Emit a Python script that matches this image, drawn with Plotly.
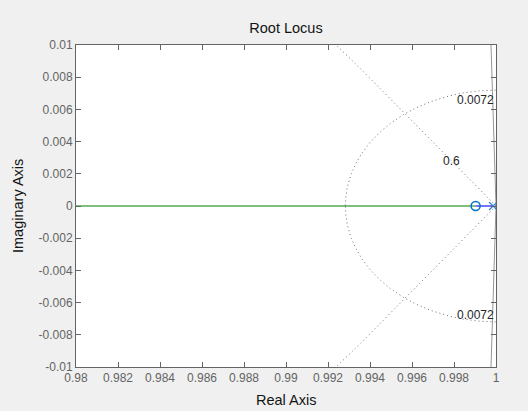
import numpy as np
import plotly.graph_objects as go

# --- data ---
pole = [0.99986]
zero = [0.99903]
locus_left_end = -1.0          # branch heading to -infinity along the real axis
zeta_grid = [0.6]              # damping ratio grid line
wn_grid = [0.0072]             # natural frequency (wn*T) grid line
circle_points = 132            # resolution of drawn unit circle

x_tick_vals = [0.98, 0.982, 0.984, 0.986, 0.988, 0.99, 0.992, 0.994, 0.996, 0.998, 1.0]
x_tick_text = ["0.98", "0.982", "0.984", "0.986", "0.988", "0.99", "0.992", "0.994", "0.996", "0.998", "1"]
y_tick_vals = [0.01, 0.008, 0.006, 0.004, 0.002, 0.0, -0.002, -0.004, -0.006, -0.008, -0.01]
y_tick_text = ["0.01", "0.008", "0.006", "0.004", "0.002", "0", "-0.002", "-0.004", "-0.006", "-0.008", "-0.01"]

FONT = "Liberation Sans, Arial, Helvetica, sans-serif"
GRID_COL = "rgb(110,110,110)"

fig = go.Figure()

# unit circle (coarse polygon)
th = np.linspace(0, 2 * np.pi, circle_points + 1)
fig.add_trace(go.Scatter(x=np.cos(th), y=np.sin(th), mode="lines",
                         line=dict(color="rgb(150,150,150)", width=1),
                         hoverinfo="skip", showlegend=False))

# damping ratio lines
for z in zeta_grid:
    t = np.linspace(0, np.pi, 4000)
    r = np.exp(-z * t / np.sqrt(1 - z ** 2))
    for sgn in (1, -1):
        fig.add_trace(go.Scatter(x=r * np.cos(t), y=sgn * r * np.sin(t), mode="lines",
                                 line=dict(color=GRID_COL, width=1, dash="1px,3px"),
                                 hoverinfo="skip", showlegend=False))

# natural frequency curves
for w in wn_grid:
    zz = np.linspace(0, 1, 400)
    s_re = -w * zz
    s_im = w * np.sqrt(1 - zz ** 2)
    mag = np.exp(s_re)
    for sgn in (1, -1):
        fig.add_trace(go.Scatter(x=mag * np.cos(s_im), y=sgn * mag * np.sin(s_im), mode="lines",
                                 line=dict(color=GRID_COL, width=1, dash="1px,3px"),
                                 hoverinfo="skip", showlegend=False))

# locus branches
fig.add_trace(go.Scatter(x=[locus_left_end, zero[0]], y=[0, 0], mode="lines",
                         line=dict(color="rgb(0,128,0)", width=1.1), showlegend=False))
fig.add_trace(go.Scatter(x=[zero[0], pole[0]], y=[0, 0], mode="lines",
                         line=dict(color="rgb(0,0,255)", width=1.1), showlegend=False))

# zero / pole markers
fig.add_trace(go.Scatter(x=zero, y=[0] * len(zero), mode="markers",
                         marker=dict(symbol="circle-open", size=9, color="rgb(0,114,189)",
                                     line=dict(width=1.5, color="rgb(0,114,189)")),
                         showlegend=False))
fig.add_trace(go.Scatter(x=pole, y=[0] * len(pole), mode="markers",
                         marker=dict(symbol="x-thin-open", size=8, color="rgb(40,130,220)",
                                     line=dict(width=1.2, color="rgb(40,130,220)")),
                         showlegend=False))

# grid labels
ann = []
for z in zeta_grid:
    t_lab = 0.0028
    ann.append(dict(x=1 - z / np.sqrt(1 - z ** 2) * t_lab, y=t_lab, xref="x", yref="y",
                    text=f"{z:g}", showarrow=False, font=dict(size=12, color="rgb(38,38,38)", family=FONT)))
for w in wn_grid:
    for yy in (0.0066, -0.0068):
        ann.append(dict(x=0.99900, y=yy, xref="x", yref="y", text=f"{w:g}", showarrow=False,
                        font=dict(size=12, color="rgb(38,38,38)", family=FONT)))

# axis titles
ann.append(dict(x=0.5, y=0, xref="paper", yref="paper", yshift=-33, yanchor="middle",
                text="Real Axis", showarrow=False, font=dict(size=14.5, color="rgb(20,20,20)", family=FONT)))
ann.append(dict(x=0, y=0.5, xref="paper", yref="paper", xshift=-58, xanchor="center", textangle=-90,
                text="Imaginary Axis", showarrow=False, font=dict(size=14.5, color="rgb(20,20,20)", family=FONT)))

axis_common = dict(showgrid=False, zeroline=False, showline=True, linecolor="rgb(100,100,100)",
                   linewidth=1, mirror="ticks", ticks="inside", ticklen=5, tickcolor="rgb(100,100,100)",
                   tickfont=dict(size=12, color="rgb(100,100,100)", family=FONT), tickmode="array")

fig.update_layout(
    width=528, height=411,
    margin=dict(l=76, r=32, t=45, b=44),
    paper_bgcolor="rgb(240,240,240)", plot_bgcolor="white",
    title=dict(text="Root Locus", x=(76 + 496) / 2 / 528, xanchor="center",
               y=1 - 28 / 411, yanchor="middle", yref="container",
               font=dict(size=14.5, color="rgb(20,20,20)", family=FONT)),
    xaxis=dict(range=[0.98, 1.0], tickvals=x_tick_vals, ticktext=x_tick_text, **axis_common),
    yaxis=dict(range=[-0.01, 0.01], tickvals=y_tick_vals, ticktext=y_tick_text, **axis_common),
    annotations=ann,
    showlegend=False,
    hovermode=False,
)

fig.write_html("out.html",
               config={"displayModeBar": False},
               post_script="document.body.style.margin='0';document.body.style.padding='0';"
                           "document.body.style.overflow='hidden';")
